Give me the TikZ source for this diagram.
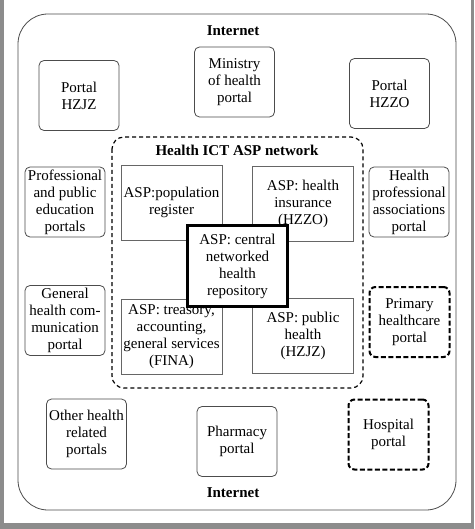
\documentclass[tikz,border=0pt]{standalone}
\usepackage{fontspec}
\setmainfont{Liberation Serif}
\begin{document}
\begin{tikzpicture}[x=1pt,y=-1pt,
	every node/.style={font=\fontsize{15}{17}\selectfont, align=center, inner sep=0pt},
	portal/.style={draw=black!70, line width=0.8pt, rounded corners=5pt, minimum width=80pt, minimum height=70pt},
	mainportal/.style={draw=black, line width=2pt, dash pattern=on 5pt off 2.5pt, rounded corners=6pt, minimum width=80pt, minimum height=70pt},
	asp/.style={draw=black!60, line width=0.8pt, minimum width=101pt, minimum height=75pt},
	title/.style={font=\fontsize{15}{17}\selectfont\bfseries}]
		\def\rim{3.5};
		\useasboundingbox (0,0) rectangle (474,529);
		\fill[white] (0,0) rectangle (474,529);
		
		% frame of the scan
		\fill[black!45] (0,0) rectangle (\rim,529);
		\fill[black!45] (474-\rim,0) rectangle (474,529);
		\fill[black!45] (0,529-6) rectangle (474,529);
		
		% internet
		\draw[black!70, line width=0.8pt, rounded corners=30pt] (18,14) rectangle (456,510);
		\node[title] (nettop) at (233,31) {Internet};
		\node[title] (netbot) at (233,493) {Internet};
		
		\node[portal] (hzjz) at (79,95.5) {Portal\\HZJZ};
		\node[portal] (ministry) at (234.5,82) {Ministry\\of health\\portal};
		\node[portal] (hzzo) at (389.5,93.5) {Portal\\HZZO};
		\node[portal] (profedu) at (65,202) {Professional\\and public\\education\\portals};
		\node[portal] (assoc) at (409,202) {Health\\professional\\associations\\portal};
		\node[portal] (genhealth) at (65,320.5) {General\\health com-\\munication\\portal};
		\node[mainportal] (primary) at (409.5,322) {Primary\\healthcare\\portal};
		\node[portal] (other) at (86.5,434) {Other health\\related\\portals};
		\node[portal] (pharmacy) at (237,441.5) {Pharmacy\\portal};
		\node[mainportal] (hospital) at (388.5,434.5) {Hospital\\portal};
		
		% ASP network
		\draw[black, line width=1.2pt, dash pattern=on 4pt off 3pt, rounded corners=12pt] (112,137) rectangle (363,388);
		\node[title] (asplabel) at (237,150) {Health ICT ASP network};
		\node[asp] (popreg) at (171.5,202.5) {ASP:population\\register};
		\node[asp] (insur) at (303,203.5) {ASP: health\\insurance\\(HZZO)};
		\node[asp] (treas) at (171.5,336.5) {ASP: treasory,\\accounting,\\general services\\(FINA)};
		\node[asp] (pubhealth) at (303,335.5) {ASP: public\\health\\(HZJZ)};
		\node[draw=black, line width=2.5pt, fill=white, minimum width=100pt, minimum height=81pt] (central) at (237.5,266) {ASP: central\\networked\\health\\repository};
	\end{tikzpicture}
\end{document}
